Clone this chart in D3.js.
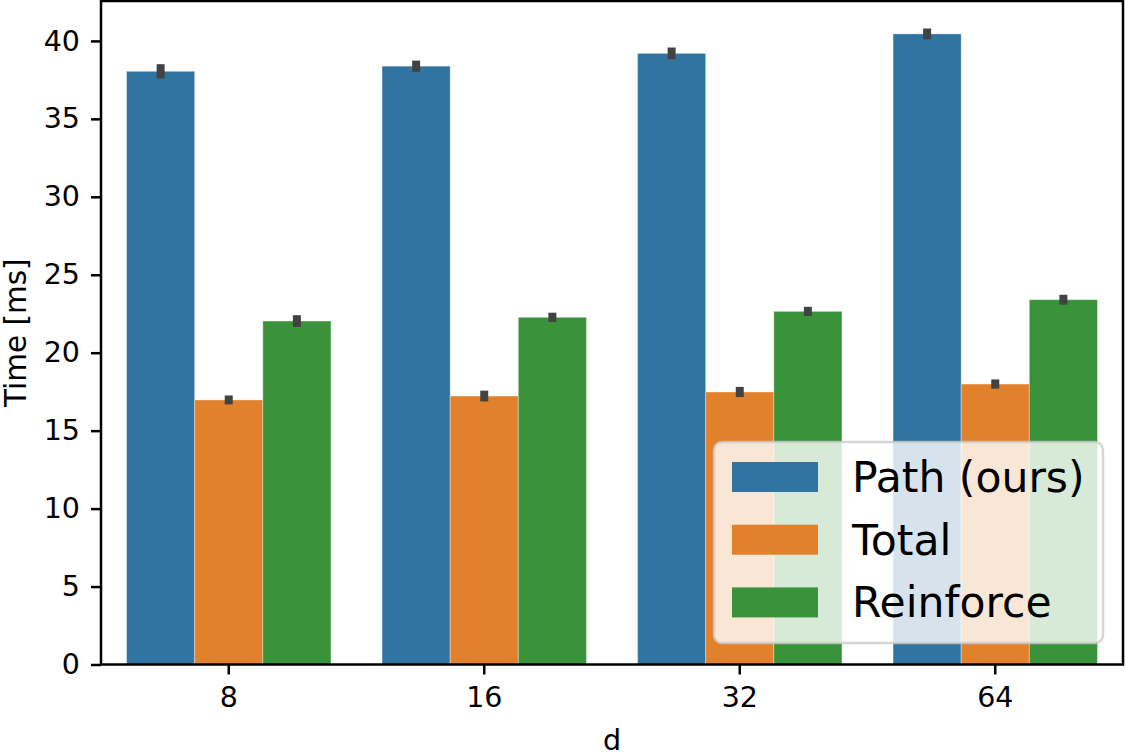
<!DOCTYPE html>
<html>
<head>
<meta charset="utf-8">
<script src="https://cdn.jsdelivr.net/npm/d3@7"></script>
<style>
  body { margin: 0; background: #fff; }
  svg { display: block; font-family: "DejaVu Sans", sans-serif; }
</style>
</head>
<body>
<div id="chart"></div>
<script>
// categories on the x axis (d) and the three methods
var dims = ['8', '16', '32', '64'];
var methods = ['Path (ours)', 'Total', 'Reinforce'];
var colors = ['#3274a1', '#e1812c', '#3a923a'];

// mean time in ms
var pathMs = [38.05, 38.38, 39.2, 40.45];
var totalMs = [16.97, 17.22, 17.48, 17.99];
var reinforceMs = [22.03, 22.27, 22.65, 23.4];

// half width of the confidence interval
var pathErr = [0.2, 0.1, 0.12, 0.09];
var totalErr = [0.03, 0.09, 0.07, 0.04];
var reinforceErr = [0.12, 0.04, 0.04, 0.06];

var yTicks = [0, 5, 10, 15, 20, 25, 30, 35, 40];

var series = [pathMs, totalMs, reinforceMs];
var errs = [pathErr, totalErr, reinforceErr];

var width = 1125, height = 752;
var plotLeft = 101, plotRight = 1123, plotTop = 1, plotBottom = 664.5;
var fontSize = 28.5;

var svg = d3.select('#chart').append('svg')
    .attr('width', width)
    .attr('height', height);

var x = d3.scaleBand()
    .domain(dims)
    .range([plotLeft, plotRight])
    .paddingInner(0.2)
    .paddingOuter(0.1);

var xInner = d3.scaleBand()
    .domain(methods)
    .range([0, x.bandwidth()]);

var y = d3.scaleLinear()
    .domain([0, 42.56])
    .range([plotBottom, plotTop]);

// flatten into one list of bars
var bars = [];
methods.forEach(function (m, j) {
    dims.forEach(function (d, i) {
        bars.push({ dim: d, method: m, j: j, value: series[j][i], err: errs[j][i] });
    });
});

svg.append('g').selectAll('rect')
    .data(bars)
    .enter()
    .append('rect')
    .attr('x', function (d) { return x(d.dim) + xInner(d.method); })
    .attr('width', xInner.bandwidth())
    .attr('y', function (d) { return y(d.value); })
    .attr('height', function (d) { return y(0) - y(d.value); })
    .attr('fill', function (d) { return colors[d.j]; })
    .attr('stroke', 'rgba(255,255,255,0.35)')
    .attr('stroke-width', 1);

// error bars
svg.append('g').selectAll('line')
    .data(bars)
    .enter()
    .append('line')
    .attr('x1', function (d) { return x(d.dim) + xInner(d.method) + xInner.bandwidth() / 2; })
    .attr('x2', function (d) { return x(d.dim) + xInner(d.method) + xInner.bandwidth() / 2; })
    .attr('y1', function (d) { return y(d.value - d.err); })
    .attr('y2', function (d) { return y(d.value + d.err); })
    .attr('stroke', '#424242')
    .attr('stroke-width', 8)
    .attr('stroke-linecap', 'square');

// axes
var yAxis = d3.axisLeft(y).tickValues(yTicks).tickSize(10).tickPadding(11);
var xAxis = d3.axisBottom(x).tickSize(10).tickPadding(12);

var gy = svg.append('g').attr('transform', 'translate(' + plotLeft + ',0)').call(yAxis);
var gx = svg.append('g').attr('transform', 'translate(0,' + plotBottom + ')').call(xAxis);

[gx, gy].forEach(function (g) {
    g.select('.domain').remove();
    g.selectAll('.tick line').attr('stroke', '#000').attr('stroke-width', 2.5);
    g.selectAll('.tick text')
        .attr('fill', '#000')
        .style('font-size', fontSize + 'px')
        .style('font-family', '"DejaVu Sans", sans-serif');
});

// frame
svg.append('rect')
    .attr('x', plotLeft)
    .attr('y', plotTop)
    .attr('width', plotRight - plotLeft)
    .attr('height', plotBottom - plotTop)
    .attr('fill', 'none')
    .attr('stroke', '#000')
    .attr('stroke-width', 2.5);

// axis labels
svg.append('text')
    .attr('x', (plotLeft + plotRight) / 2)
    .attr('y', 750)
    .attr('text-anchor', 'middle')
    .style('font-size', fontSize + 'px')
    .text('d');

svg.append('text')
    .attr('transform', 'translate(26,' + (plotTop + plotBottom) / 2 + ') rotate(-90)')
    .attr('text-anchor', 'middle')
    .style('font-size', '29.5px')
    .text('Time [ms]');

// legend
var legend = svg.append('g');
legend.append('rect')
    .attr('x', 714)
    .attr('y', 442)
    .attr('width', 389)
    .attr('height', 201)
    .attr('rx', 8)
    .attr('fill', 'rgba(255,255,255,0.8)')
    .attr('stroke', 'rgba(204,204,204,0.8)')
    .attr('stroke-width', 2.5);

var item = legend.selectAll('g.item')
    .data(methods)
    .enter()
    .append('g')
    .attr('class', 'item')
    .attr('transform', function (d, i) { return 'translate(732,' + (462 + i * 62.7) + ')'; });

item.append('rect')
    .attr('width', 86)
    .attr('height', 30)
    .attr('fill', function (d, i) { return colors[i]; });

item.append('text')
    .attr('x', 120)
    .attr('y', 30)
    .style('font-size', '42.5px')
    .text(function (d) { return d; });
</script>
</body>
</html>
